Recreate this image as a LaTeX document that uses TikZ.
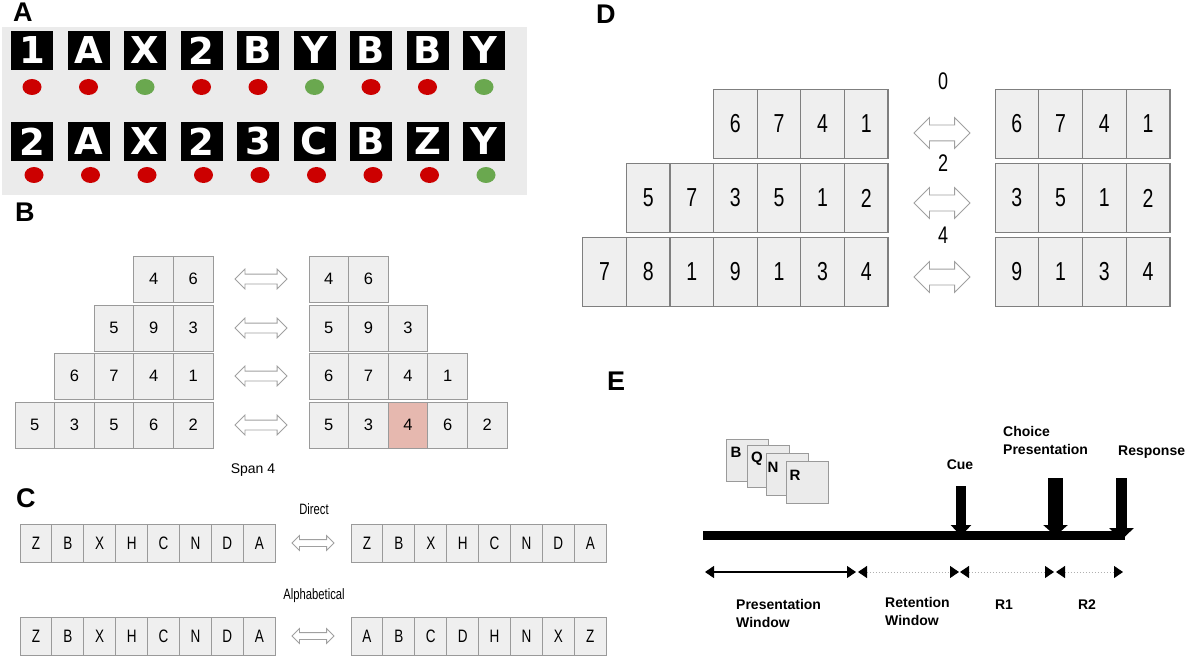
\documentclass[tikz,border=0pt]{standalone}
\usepackage{fontspec}
\setmainfont{Liberation Sans}
\newfontfamily\tilefont{DejaVu Sans}
\newfontfamily\narrowfont{Liberation Sans}[FakeStretch=0.75]
\usetikzlibrary{shapes.geometric,shapes.arrows,arrows.meta}
\definecolor{bgA}{HTML}{EBEBEB}
\definecolor{redA}{HTML}{CC0000}
\definecolor{greenA}{HTML}{6AA84F}
\definecolor{cellfill}{HTML}{EFEFEF}
\definecolor{cellline}{HTML}{9A9A9A}
\definecolor{cellDline}{HTML}{7F7F7F}
\definecolor{hl}{HTML}{E6B8AF}
\definecolor{arrline}{HTML}{A0A0A0}
\definecolor{dotline}{HTML}{B0B0B0}
\begin{document}
\begin{tikzpicture}[x=1pt,y=-1pt,
  panel/.style={font=\fontsize{27}{27}\selectfont\bfseries, inner sep=0pt, anchor=north west},
  tile/.style={fill=black, minimum width=42pt, minimum height=39pt, inner sep=0pt, text=white, font=\tilefont\bfseries\fontsize{37}{37}\selectfont},
  dotsty/.style={ellipse, minimum width=19pt, minimum height=16pt, inner sep=0pt},
  redd/.style={dotsty, fill=redA},
  greend/.style={dotsty, fill=greenA},
  cellbase/.style={draw=cellline, line width=0.9pt, fill=cellfill, inner sep=0pt},
  cellB/.style={cellbase, minimum width=39.6pt, minimum height=46pt, font=\fontsize{16.5}{16.5}\selectfont},
  cellC/.style={cellbase, minimum width=31.9pt, minimum height=38pt, font=\narrowfont\fontsize{18}{18}\selectfont},
  cellD/.style={cellbase, draw=cellDline, line width=1.1pt, minimum width=43.6pt, minimum height=69pt, font=\narrowfont\fontsize{26}{26}\selectfont},
  harrow/.style={double arrow, draw=arrline, fill=white, line width=0.8pt, inner sep=0pt},
  smalltext/.style={font=\narrowfont\fontsize{15}{15}\selectfont, inner sep=0pt},
  card/.style={draw=cellline, line width=0.9pt, fill=bgA, minimum size=42pt, inner sep=0pt},
  cardletter/.style={font=\bfseries\fontsize{15}{15}\selectfont, inner sep=0pt},
  etext/.style={font=\bfseries\fontsize{14}{18}\selectfont, inner sep=0pt, align=left},
  tipS/.style={{Triangle[length=9pt,width=12pt,color=black]}-{Triangle[length=9pt,width=12pt,color=black]}},
]
\useasboundingbox (0,0) rectangle (1200,658);
\fill[white] (0,0) rectangle (1200,658);

% ---------------- Panel A ----------------
\node[panel] (labA) at (13,3) {A};
\fill[bgA] (2,27) rectangle (527,195);
\foreach \t [count=\i] in {1,A,X,2,B,Y,B,B,Y}
  \node[tile] (ta-\i) at ({32+56.5*(\i-1)},50.5) {\t};
\foreach \c [count=\i] in {redd,redd,greend,redd,redd,greend,redd,redd,greend}
  \node[\c] (pa-\i) at ({32+56.5*(\i-1)},87) {};
\foreach \t [count=\i] in {2,A,X,2,3,C,B,Z,Y}
  \node[tile] (tb-\i) at ({32+56.5*(\i-1)},141.5) {\t};
\foreach \c [count=\i] in {redd,redd,redd,redd,redd,redd,redd,redd,greend}
  \node[\c] (pb-\i) at ({34+56.5*(\i-1)},175) {};

% ---------------- Panel B ----------------
\node[panel] (labB) at (15,203) {B};
\foreach \v [count=\i] in {4,6}
  \node[cellB] (bl1-\i) at ({213-39.6*(2-\i)-19.8},279) {\v};
\foreach \v [count=\i] in {5,9,3}
  \node[cellB] (bl2-\i) at ({213-39.6*(3-\i)-19.8},328) {\v};
\foreach \v [count=\i] in {6,7,4,1}
  \node[cellB] (bl3-\i) at ({213-39.6*(4-\i)-19.8},376) {\v};
\foreach \v [count=\i] in {5,3,5,6,2}
  \node[cellB] (bl4-\i) at ({213-39.6*(5-\i)-19.8},425) {\v};
\foreach \v [count=\i] in {4,6}
  \node[cellB] (br1-\i) at ({309+39.6*(\i-1)+19.8},279) {\v};
\foreach \v [count=\i] in {5,9,3}
  \node[cellB] (br2-\i) at ({309+39.6*(\i-1)+19.8},328) {\v};
\foreach \v [count=\i] in {6,7,4,1}
  \node[cellB] (br3-\i) at ({309+39.6*(\i-1)+19.8},376) {\v};
\foreach \v/\f [count=\i] in {5/cellfill,3/cellfill,4/hl,6/cellfill,2/cellfill}
  \node[cellB, fill=\f] (br4-\i) at ({309+39.6*(\i-1)+19.8},425) {\v};
\foreach \y [count=\i] in {279,328,376,425}
  \node[harrow, minimum height=52pt, double arrow head extend=5pt] (ba-\i) at (261,\y) {\rule{0pt}{9pt}};
\node[font=\fontsize{14}{14}\selectfont, inner sep=0pt] (span) at (253,470) {Span 4};

% ---------------- Panel C ----------------
\node[panel] (labC) at (16,488) {C};
\node[smalltext] (direct) at (314,509) {Direct};
\node[smalltext] (alpha) at (314,596) {Alphabetical};
\foreach \v [count=\i] in {Z,B,X,H,C,N,D,A}
  \node[cellC] (cl1-\i) at ({20+31.9*(\i-1)+15.95},543) {\v};
\foreach \v [count=\i] in {Z,B,X,H,C,N,D,A}
  \node[cellC] (cr1-\i) at ({351+31.9*(\i-1)+15.95},543) {\v};
\foreach \v [count=\i] in {Z,B,X,H,C,N,D,A}
  \node[cellC] (cl2-\i) at ({20+31.9*(\i-1)+15.95},636) {\v};
\foreach \v [count=\i] in {A,B,C,D,H,N,X,Z}
  \node[cellC] (cr2-\i) at ({351+31.9*(\i-1)+15.95},636) {\v};
\node[harrow, minimum height=42pt, double arrow head extend=4pt] (ca-1) at (313,543) {\rule{0pt}{6pt}};
\node[harrow, minimum height=42pt, double arrow head extend=4pt] (ca-2) at (313,636) {\rule{0pt}{6pt}};

% ---------------- Panel D ----------------
\node[panel] (labD) at (596,5) {D};
\foreach \v [count=\i] in {6,7,4,1}
  \node[cellD] (dl1-\i) at ({888-43.6*(4-\i)-21.8},124) {\v};
\foreach \v [count=\i] in {5,7,3,5,1,2}
  \node[cellD] (dl2-\i) at ({888-43.6*(6-\i)-21.8},198) {\v};
\foreach \v [count=\i] in {7,8,1,9,1,3,4}
  \node[cellD] (dl3-\i) at ({888-43.6*(7-\i)-21.8},272) {\v};
\foreach \v [count=\i] in {6,7,4,1}
  \node[cellD] (dr1-\i) at ({995+43.75*(\i-1)+21.9},124) {\v};
\foreach \v [count=\i] in {3,5,1,2}
  \node[cellD] (dr2-\i) at ({995+43.75*(\i-1)+21.9},198) {\v};
\foreach \v [count=\i] in {9,1,3,4}
  \node[cellD] (dr3-\i) at ({995+43.75*(\i-1)+21.9},272) {\v};
\foreach \y [count=\i] in {133,203,277}
  \node[harrow, minimum height=56pt, double arrow head extend=7.5pt] (da-\i) at (942,\y) {\rule{0pt}{15pt}};
\node[font=\narrowfont\fontsize{24}{24}\selectfont, inner sep=0pt] (d0) at (943,81) {0};
\node[font=\narrowfont\fontsize{24}{24}\selectfont, inner sep=0pt] (d2) at (943,163) {2};
\node[font=\narrowfont\fontsize{24}{24}\selectfont, inner sep=0pt] (d4) at (943,235) {4};

% ---------------- Panel E ----------------
\node[panel] (labE) at (607,372) {E};
% cards
\node[card] (cardB) at (747.5,460) {};
\node[cardletter] (lB) at (736,452) {B};
\node[card] (cardQ) at (768,466.5) {};
\node[cardletter] (lQ) at (757,459) {Q};
\node[card] (cardN) at (787.5,474.5) {};
\node[cardletter] (lN) at (773,467) {N};
\node[card] (cardR) at (807,482) {};
\node[cardletter] (lR) at (795,475) {R};
% timeline bar
\coordinate (barL) at (703,535.5);
\coordinate (barR) at (1125,535.5);
\draw[line width=9pt] (barL) -- (barR);
% event arrows
\coordinate (cueS) at (961,486);
\coordinate (cueE) at (961,536);
\draw[line width=10pt, -{Triangle[length=11pt,width=20pt]}] (cueS) -- (cueE);
\coordinate (choS) at (1055.5,478);
\coordinate (choE) at (1055.5,536);
\draw[line width=15pt, -{Triangle[length=11pt,width=24pt]}] (choS) -- (choE);
\coordinate (resS) at (1121.5,478);
\coordinate (resE) at (1121.5,540);
\draw[line width=11pt, -{Triangle[length=12pt,width=24pt]}] (resS) -- (resE);
% labels
\node[etext] (cue) at (960,465) {Cue};
\node[etext, anchor=north west] (choice) at (1003,426) {Choice\\Presentation};
\node[etext, anchor=west] (resp) at (1118,452) {Response};
% intervals
\coordinate (i0) at (705,572);
\coordinate (i1) at (856,572);
\coordinate (i2) at (858,572);
\coordinate (i3) at (959,572);
\coordinate (i4) at (960,572);
\coordinate (i5) at (1054,572);
\coordinate (i6) at (1056,572);
\coordinate (i7) at (1123,572);
\draw[line width=1.2pt, tipS] (i0) -- (i1);
\draw[line width=1pt, dotline, dotted, tipS] (i2) -- (i3);
\draw[line width=1pt, dotline, dotted, tipS] (i4) -- (i5);
\draw[line width=1pt, dotline, dotted, tipS] (i6) -- (i7);
\node[etext, anchor=north west] (pw) at (736,599) {Presentation\\Window};
\node[etext, anchor=north west] (rw) at (885,597) {Retention\\Window};
\node[etext] (r1) at (1004,605) {R1};
\node[etext] (r2) at (1087,605) {R2};
\end{tikzpicture}
\end{document}
